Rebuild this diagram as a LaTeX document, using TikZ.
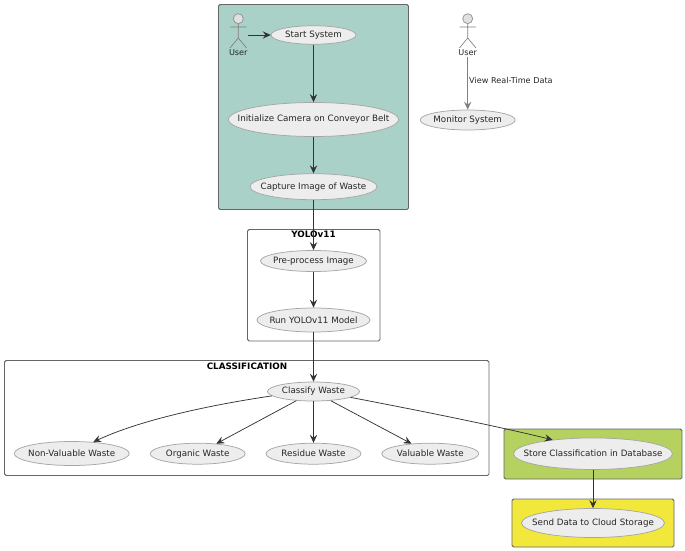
\documentclass[tikz,border=0pt]{standalone}
\usepackage{fontspec}
\setmainfont{DejaVu Sans}
\usetikzlibrary{arrows.meta,shapes.geometric}
\definecolor{tealbox}{HTML}{A9D1C7}
\definecolor{greenbox}{HTML}{B5D160}
\definecolor{yellowbox}{HTML}{F2E83C}
\definecolor{ucfill}{HTML}{EDEDED}
\newcommand{\uctext}[1]{\makebox[0pt]{#1}}
\tikzset{every picture/.style={line width=0.75pt},
  usecase/.style={ellipse,draw=black!35,fill=ucfill,inner sep=0pt,line width=0.55pt,text=black!85,font=\fontsize{6.55}{8}\selectfont},
  ucsize/.style 2 args={minimum width=#1*0.75pt,minimum height=#2*0.75pt},
  flow/.style={-{Stealth[inset=2.2pt,length=6pt,width=5.5pt]},black!80,line width=0.55pt},
  pack/.style={draw=black!60,rounded corners=1.2pt,line width=0.7pt},
  title/.style={inner sep=0pt,font=\bfseries\fontsize{6.6}{8}\selectfont},
  label/.style={inner sep=0pt,text=black!85,font=\fontsize{6.1}{8}\selectfont},
  head/.style={circle,draw=black!45,fill=black!12,inner sep=0pt,line width=0.5pt,minimum size=7.5pt}}

\begin{document}
\begin{tikzpicture}[x=0.75pt,y=0.75pt,yscale=-1,xscale=1]
\useasboundingbox (0,0) rectangle (685,550);

%Shape: Rectangle packages
\draw [pack,fill=tealbox] (218.5,4.5) rectangle (408.5,209.5);
\draw [pack,fill=white] (247.5,229.5) rectangle (380,341);
\draw [pack,fill=white] (4.5,360.5) rectangle (489,475.5);
\draw [pack,fill=greenbox] (504,429) rectangle (682,479);
\draw [pack,fill=yellowbox] (512,499) rectangle (674,547);

% Text Node
\node [title] (yolotitle) at (313.5,234.5) {YOLOv11};
% Text Node
\node [title] (classtitle) at (247,366) {CLASSIFICATION};

%Actor left
\node [head] (userhead) at (238.3,18.7) {};
\draw [black!50,line width=0.5pt] (userhead.south) -- (238.3,38) (230,27) -- (246.5,27) (230,48) -- (238.3,38) -- (246.5,48);
\node [label] (userlabel) at (238.3,53) {User};
%Actor right
\node [head] (viewerhead) at (467.7,18.7) {};
\draw [black!50,line width=0.5pt] (viewerhead.south) -- (467.7,38) (459.5,27) -- (476,27) (459.5,48) -- (467.7,38) -- (476,48);
\node [label] (viewerlabel) at (467.7,53) {User};

% Use cases
\node [usecase,ucsize={85}{18.5}] (start) at (313.5,35) {\uctext{Start System}};
\node [usecase,ucsize={170}{34}] (init) at (313.5,119.5) {\uctext{Initialize Camera on Conveyor Belt}};
\node [usecase,ucsize={127}{26}] (capture) at (313.5,186.7) {\uctext{Capture Image of Waste}};
\node [usecase,ucsize={95}{20}] (monitor) at (467.7,120) {\uctext{Monitor System}};
\node [usecase,ucsize={106}{21}] (preproc) at (313.5,261) {\uctext{Pre-process Image}};
\node [usecase,ucsize={113}{24}] (runmodel) at (313.5,320) {\uctext{Run YOLOv11 Model}};
\node [usecase,ucsize={92}{19}] (classify) at (313.5,391.5) {\uctext{Classify Waste}};
\node [usecase,ucsize={115}{24}] (nonval) at (71.7,453.5) {\uctext{Non-Valuable Waste}};
\node [usecase,ucsize={95}{21}] (organic) at (197.7,453.7) {\uctext{Organic Waste}};
\node [usecase,ucsize={95}{21}] (residue) at (313.5,453.7) {\uctext{Residue Waste}};
\node [usecase,ucsize={97}{21}] (valuable) at (430.3,453.7) {\uctext{Valuable Waste}};
\node [usecase,ucsize={159}{31.5}] (store) at (593,453.7) {\uctext{Store Classification in Database}};
\node [usecase,ucsize={143}{29}] (send) at (593,523) {\uctext{Send Data to Cloud Storage}};

%Straight Lines
\coordinate (userout) at (248,35);
\draw [flow] (userout) -- (start);
\draw [flow] (start) -- (init);
\draw [flow] (init) -- (capture);
\draw [flow] (capture) -- (preproc);
\draw [flow] (preproc) -- (runmodel);
\draw [flow] (runmodel) -- (classify);
\draw [flow] (classify) -- (organic);
\draw [flow] (classify) -- (residue);
\draw [flow] (classify) -- (valuable);
\draw [flow] (store) -- (send);
\draw [flow,black!50,line width=0.8pt] (viewerlabel) -- (monitor);
%Curve Lines
\draw [flow] (classify.186) .. controls (210,405) and (140,420) .. (nonval.28);
\draw [flow] (classify.-9) .. controls (416,410) and (490,424.5) .. (store.161);

% Text Node
\node [label,anchor=west] (viewtext) at (468.7,80) {View Real-Time Data};

\end{tikzpicture}
\end{document}
